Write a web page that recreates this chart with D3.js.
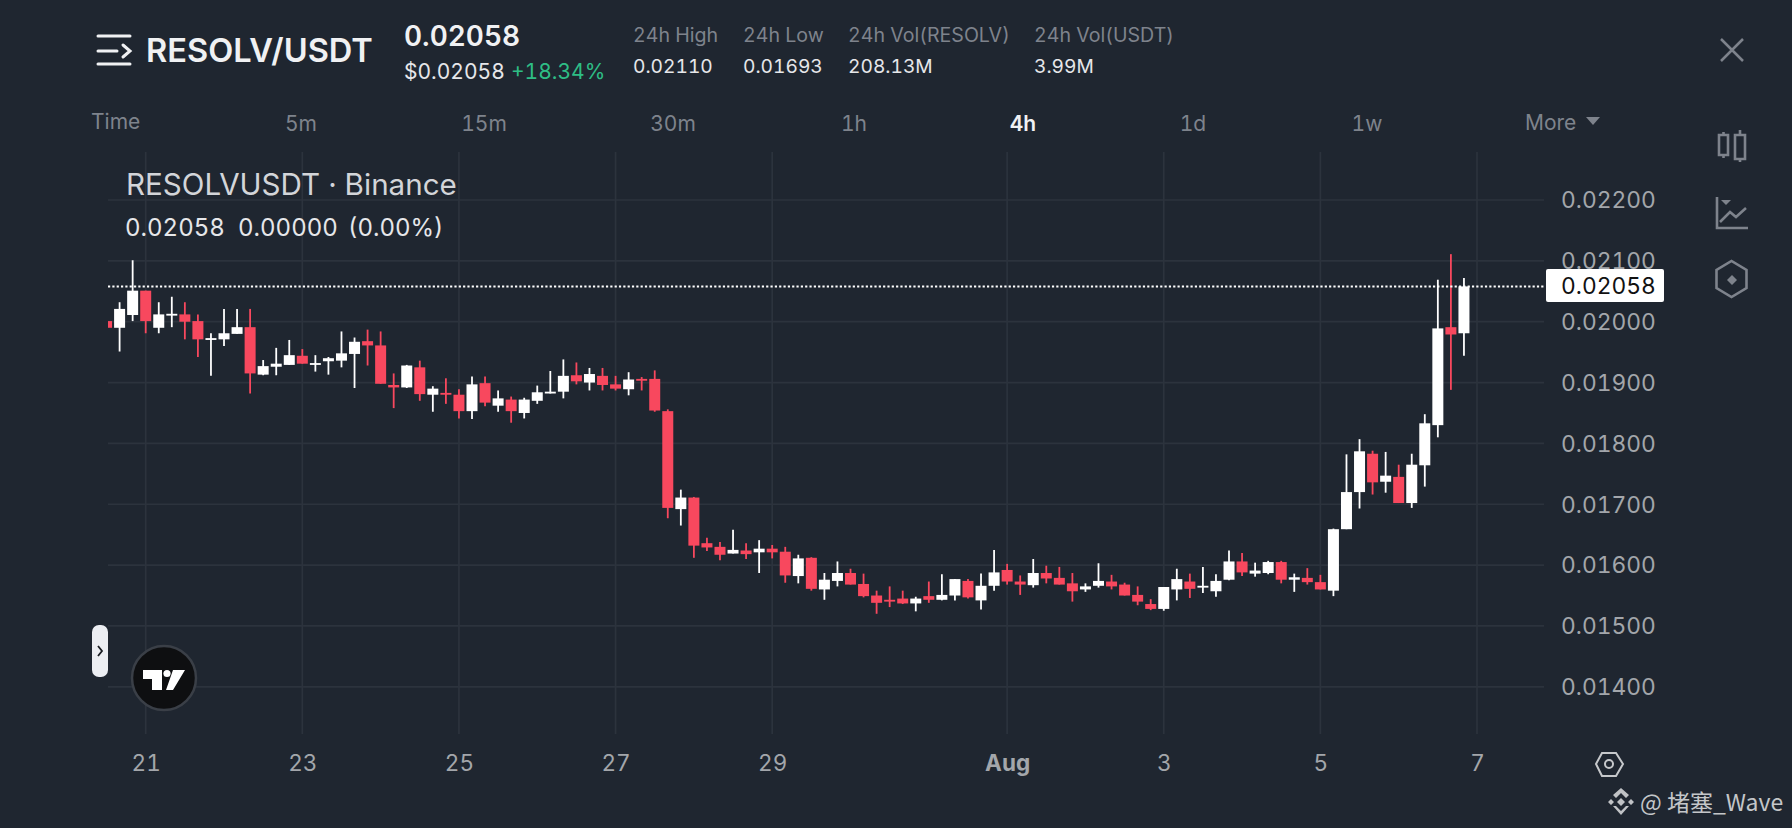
<!DOCTYPE html>
<html>
<head>
<meta charset="utf-8">
<script src="https://cdn.jsdelivr.net/npm/d3@7"></script>
<style>
  html, body { margin: 0; padding: 0; background: #1f2630; overflow: hidden; }
  svg { display: block; font-family: Inter, Roboto, sans-serif; font-variant-numeric: tabular-nums; }
</style>
</head>
<body>
<svg width="1792" height="828"></svg>
<script>
const opens = [
  0.02001, 0.01990, 0.02011, 0.02051, 0.01990, 0.02010, 0.02012, 0.02001, 0.01970, 0.01971,
  0.01980, 0.01991, 0.01913, 0.01926, 0.01929, 0.01944, 0.01929, 0.01935, 0.01936, 0.01947,
  0.01968, 0.01961, 0.01896, 0.01892, 0.01925, 0.01880, 0.01883, 0.01880, 0.01853, 0.01899,
  0.01862, 0.01872, 0.01850, 0.01870, 0.01882, 0.01885, 0.01912, 0.01900, 0.01911, 0.01897,
  0.01889, 0.01906, 0.01906, 0.01853, 0.01692, 0.01711, 0.01636, 0.01630, 0.01619, 0.01624,
  0.01621, 0.01627, 0.01622, 0.01582, 0.01612, 0.01560, 0.01574, 0.01587, 0.01569, 0.01550,
  0.01543, 0.01545, 0.01537, 0.01549, 0.01543, 0.01550, 0.01574, 0.01542, 0.01566, 0.01592,
  0.01573, 0.01567, 0.01587, 0.01579, 0.01570, 0.01560, 0.01566, 0.01573, 0.01568, 0.01551,
  0.01536, 0.01528, 0.01560, 0.01573, 0.01563, 0.01557, 0.01576, 0.01606, 0.01586, 0.01587,
  0.01605, 0.01576, 0.01579, 0.01572, 0.01558, 0.01659, 0.01720, 0.01783, 0.01737, 0.01745,
  0.01702, 0.01764, 0.01830, 0.01991, 0.01981
];
const highs = [
  0.02001, 0.02032, 0.02101, 0.02051, 0.02032, 0.02041, 0.02032, 0.02012, 0.01981, 0.02021,
  0.02021, 0.02021, 0.01937, 0.01957, 0.01970, 0.01955, 0.01945, 0.01942, 0.01984, 0.01974,
  0.01987, 0.01984, 0.01915, 0.01929, 0.01936, 0.01894, 0.01907, 0.01889, 0.01910, 0.01910,
  0.01887, 0.01877, 0.01875, 0.01895, 0.01919, 0.01938, 0.01933, 0.01924, 0.01924, 0.01911,
  0.01917, 0.01909, 0.01920, 0.01856, 0.01724, 0.01712, 0.01645, 0.01638, 0.01658, 0.01636,
  0.01641, 0.01633, 0.01630, 0.01617, 0.01613, 0.01587, 0.01606, 0.01594, 0.01586, 0.01558,
  0.01565, 0.01558, 0.01548, 0.01573, 0.01585, 0.01577, 0.01577, 0.01586, 0.01625, 0.01602,
  0.01583, 0.01610, 0.01599, 0.01597, 0.01587, 0.01570, 0.01603, 0.01584, 0.01571, 0.01565,
  0.01544, 0.01564, 0.01594, 0.01586, 0.01597, 0.01585, 0.01624, 0.01620, 0.01604, 0.01607,
  0.01607, 0.01586, 0.01595, 0.01584, 0.01660, 0.01782, 0.01807, 0.01788, 0.01786, 0.01765,
  0.01783, 0.01848, 0.02069, 0.02111, 0.02072
];
const lows = [
  0.01990, 0.01951, 0.02001, 0.01981, 0.01981, 0.01991, 0.01971, 0.01942, 0.01911, 0.01960,
  0.01980, 0.01882, 0.01912, 0.01912, 0.01929, 0.01931, 0.01918, 0.01913, 0.01925, 0.01891,
  0.01928, 0.01898, 0.01858, 0.01891, 0.01870, 0.01852, 0.01865, 0.01841, 0.01840, 0.01861,
  0.01852, 0.01834, 0.01841, 0.01865, 0.01882, 0.01874, 0.01897, 0.01887, 0.01887, 0.01887,
  0.01879, 0.01887, 0.01852, 0.01677, 0.01665, 0.01612, 0.01623, 0.01608, 0.01619, 0.01610,
  0.01587, 0.01611, 0.01571, 0.01570, 0.01558, 0.01543, 0.01565, 0.01568, 0.01547, 0.01520,
  0.01531, 0.01536, 0.01524, 0.01538, 0.01542, 0.01542, 0.01545, 0.01527, 0.01558, 0.01568,
  0.01551, 0.01563, 0.01570, 0.01568, 0.01540, 0.01556, 0.01563, 0.01560, 0.01550, 0.01534,
  0.01526, 0.01525, 0.01542, 0.01546, 0.01554, 0.01548, 0.01575, 0.01582, 0.01581, 0.01585,
  0.01570, 0.01556, 0.01568, 0.01560, 0.01549, 0.01659, 0.01693, 0.01716, 0.01719, 0.01702,
  0.01694, 0.01729, 0.01810, 0.01888, 0.01944
];
const closes = [
  0.01990, 0.02021, 0.02051, 0.02001, 0.02012, 0.02013, 0.02000, 0.01971, 0.01973, 0.01981,
  0.01991, 0.01915, 0.01927, 0.01931, 0.01945, 0.01931, 0.01932, 0.01940, 0.01948, 0.01967,
  0.01961, 0.01898, 0.01892, 0.01928, 0.01881, 0.01890, 0.01880, 0.01853, 0.01897, 0.01867,
  0.01874, 0.01853, 0.01872, 0.01884, 0.01885, 0.01911, 0.01902, 0.01914, 0.01896, 0.01890,
  0.01905, 0.01903, 0.01854, 0.01694, 0.01711, 0.01632, 0.01629, 0.01617, 0.01625, 0.01618,
  0.01627, 0.01621, 0.01583, 0.01611, 0.01561, 0.01576, 0.01587, 0.01568, 0.01549, 0.01538,
  0.01540, 0.01537, 0.01545, 0.01543, 0.01551, 0.01577, 0.01547, 0.01566, 0.01588, 0.01573,
  0.01568, 0.01587, 0.01578, 0.01568, 0.01557, 0.01565, 0.01574, 0.01565, 0.01550, 0.01540,
  0.01528, 0.01564, 0.01577, 0.01561, 0.01566, 0.01574, 0.01606, 0.01588, 0.01591, 0.01605,
  0.01576, 0.01580, 0.01572, 0.01560, 0.01659, 0.01720, 0.01787, 0.01736, 0.01747, 0.01702,
  0.01765, 0.01833, 0.01989, 0.01979, 0.02058
];

const lastPrice = 0.02058;
const priceTicks = [0.014, 0.015, 0.016, 0.017, 0.018, 0.019, 0.020, 0.021, 0.022];
const dayTicks = [
  Date.UTC(2025, 6, 21), Date.UTC(2025, 6, 23), Date.UTC(2025, 6, 25), Date.UTC(2025, 6, 27),
  Date.UTC(2025, 6, 29), Date.UTC(2025, 7, 1), Date.UTC(2025, 7, 3), Date.UTC(2025, 7, 5), Date.UTC(2025, 7, 7)
];
const dayLabels = ["21", "23", "25", "27", "29", "Aug", "3", "5", "7"];
const firstCandle = Date.UTC(2025, 6, 20, 12);
const candleMs = 4 * 3600 * 1000;

const statLabels = ["24h High", "24h Low", "24h Vol(RESOLV)", "24h Vol(USDT)"];
const statValues = ["0.02110", "0.01693", "208.13M", "3.99M"];
const statX = [633, 743, 848, 1034];
const intervals = ["5m", "15m", "30m", "1h", "4h", "1d", "1w"];
const intervalX = [301, 484, 673, 854, 1023, 1193, 1367];
const legendValues = ["0.02058", "0.00000", "(0.00%)"];
const legendX = [125, 238, 348];

const colors = { bg: "#1f2630", grid: "#2c333d", up: "#ffffff", down: "#f8485e", muted: "#7e838c", axis: "#a3a6ab" };

const svg = d3.select("svg");

const scaleX = d3.scaleUtc()
  .domain([dayTicks[0], dayTicks[8]])
  .range([145.7, 1477]);
const scaleY = d3.scaleLinear()
  .domain([0.014, 0.022])
  .range([686.8, 200]);

const plot = { left: 108, right: 1544, top: 152, bottom: 734 };
const candles = opens.map((o, i) => ({
  t: firstCandle + i * candleMs, o: o, h: highs[i], l: lows[i], c: closes[i]
}));

svg.append("clipPath").attr("id", "plotClip")
  .append("rect")
  .attr("x", plot.left).attr("y", plot.top)
  .attr("width", plot.right - plot.left).attr("height", plot.bottom - plot.top);

// grid
const grid = svg.append("g").attr("stroke", colors.grid).attr("stroke-width", 1.7);
grid.selectAll("line.h").data(priceTicks).join("line")
  .attr("x1", plot.left).attr("x2", plot.right)
  .attr("y1", d => scaleY(d)).attr("y2", d => scaleY(d));
grid.selectAll("line.v").data(dayTicks).join("line")
  .attr("x1", d => scaleX(d)).attr("x2", d => scaleX(d))
  .attr("y1", plot.top).attr("y2", plot.bottom);

// candles
const g = svg.append("g").attr("clip-path", "url(#plotClip)");
const colorOf = d => d.c >= d.o ? colors.up : colors.down;
const bodyW = 11;
g.selectAll("line.wick").data(candles).join("line")
  .attr("x1", d => scaleX(d.t)).attr("x2", d => scaleX(d.t))
  .attr("y1", d => scaleY(d.h)).attr("y2", d => scaleY(d.l))
  .attr("stroke", colorOf).attr("stroke-width", 1.8);
g.selectAll("rect.body").data(candles).join("rect")
  .attr("x", d => scaleX(d.t) - bodyW / 2)
  .attr("width", bodyW)
  .attr("y", d => scaleY(Math.max(d.o, d.c)))
  .attr("height", d => Math.max(1.8, Math.abs(scaleY(d.o) - scaleY(d.c))))
  .attr("fill", colorOf);

// last price line
svg.append("line")
  .attr("x1", plot.left).attr("x2", plot.right)
  .attr("y1", scaleY(lastPrice)).attr("y2", scaleY(lastPrice))
  .attr("stroke", "#ffffff").attr("stroke-width", 2).attr("stroke-dasharray", "2.2 2.13");

// axes
const axisY = svg.append("g")
  .attr("transform", "translate(1561,0.5)")
  .call(d3.axisRight(scaleY).tickValues(priceTicks).tickFormat(d3.format(".5f")).tickSize(0).tickPadding(0));
axisY.select(".domain").remove();
axisY.selectAll("text")
  .attr("fill", colors.axis).style("font-family", "Inter").style("font-size", "22.8px");

const axisX = svg.append("g")
  .attr("transform", "translate(0,755)")
  .call(d3.axisBottom(scaleX).tickValues(dayTicks).tickFormat((d, i) => dayLabels[i]).tickSize(0).tickPadding(0));
axisX.select(".domain").remove();
axisX.selectAll("text")
  .attr("fill", colors.axis).style("font-family", "Inter").style("font-size", "22.5px")
  .style("font-weight", (d, i) => dayLabels[i] === "Aug" ? 700 : 400);

// price tag
svg.append("rect").attr("x", 1546).attr("y", 269).attr("width", 118).attr("height", 33).attr("rx", 2).attr("fill", "#ffffff");
svg.append("text").attr("x", 1561).attr("y", 294).attr("fill", "#111111")
  .style("font-size", "22.8px").text("0.02058");

// chart legend
svg.append("text").attr("x", 126).attr("y", 195).attr("fill", "#d3d5d9")
  .style("font-size", "29.6px").text("RESOLVUSDT · Binance");
svg.selectAll("text.legendValue").data(legendValues).join("text")
  .attr("x", (d, i) => legendX[i]).attr("y", 236).attr("fill", "#e6e7ea")
  .style("font-size", "24px").text(d => d);

// header
const menu = svg.append("g").attr("stroke", "#f0f1f3").attr("stroke-width", 3).attr("fill", "none").attr("stroke-linecap", "round");
menu.append("path").attr("d", "M98 36H130M98 51H117M98 64H130M123 45L130 51L123 57");
svg.append("text").attr("x", 146).attr("y", 62).attr("fill", "#f0f1f3")
  .style("font-size", "32.6px").style("font-weight", 600).text("RESOLV/USDT");
svg.append("text").attr("x", 404).attr("y", 46).attr("fill", "#f0f1f3")
  .style("font-size", "28px").style("font-weight", 600).text("0.02058");
svg.append("text").attr("x", 404).attr("y", 79).attr("fill", "#e6e7ea")
  .style("font-size", "21px").text("$0.02058");
svg.append("text").attr("x", 511).attr("y", 79).attr("fill", "#2ebd85").style("font-size", "21px").text("+18.34%");

svg.selectAll("text.statLabel").data(statLabels).join("text")
  .attr("x", (d, i) => statX[i]).attr("y", 42).attr("fill", colors.muted).style("font-size", "19.6px").text(d => d);
svg.selectAll("text.statValue").data(statValues).join("text")
  .attr("x", (d, i) => statX[i]).attr("y", 73).attr("fill", "#e6e7ea").style("font-size", "19.2px").text(d => d);

svg.append("text").attr("x", 91).attr("y", 129).attr("fill", colors.muted).style("font-size", "21px").text("Time");
svg.selectAll("text.interval").data(intervals).join("text")
  .attr("x", (d, i) => intervalX[i]).attr("y", 131).attr("text-anchor", "middle")
  .attr("fill", d => d === "4h" ? "#f0f1f3" : colors.muted)
  .style("font-size", "21px").style("font-weight", d => d === "4h" ? 600 : 400).text(d => d);
svg.append("text").attr("x", 1525).attr("y", 130).attr("fill", colors.muted).style("font-size", "21px").text("More");
svg.append("path").attr("d", "M1586 117H1600L1593 125Z").attr("fill", colors.muted);

// right side icons
svg.append("path").attr("d", "M1721 39L1743 61M1743 39L1721 61")
  .attr("stroke", colors.muted).attr("stroke-width", 2.5).attr("fill", "none");
const icons = svg.append("g").attr("stroke", colors.muted).attr("stroke-width", 2.6).attr("fill", "none");
icons.append("path").attr("d", "M1719 135h9v20h-9zM1723.5 132v3M1723.5 155v3M1735 135h10v24h-10zM1740 130v5M1740 159v3");
icons.append("path").attr("d", "M1717 197V228H1748M1720 222L1730 212L1736 217L1746 208");
icons.append("path").attr("d", "M1716.500 270V288L1731.500 297L1746.500 288V270L1731.500 261Z");
svg.append("path").attr("d", "M1727 280L1732 275L1737 280L1732 285Z").attr("fill", colors.muted);
svg.append("path").attr("d", "M1721 200H1731L1726 205Z").attr("fill", colors.muted);

// side handle and logo
svg.append("rect").attr("x", 92).attr("y", 625).attr("width", 16).attr("height", 52).attr("rx", 7).attr("fill", "#eceef2");
svg.append("path").attr("d", "M98 646L102 651L98 656").attr("stroke", "#1a1d22").attr("stroke-width", 1.8).attr("fill", "none");
svg.append("circle").attr("cx", 164).attr("cy", 678).attr("r", 32).attr("fill", "#0e0f11").attr("stroke", "#3a3f47").attr("stroke-width", 2.5);
svg.append("path").attr("d", "M143 670H162V690H152V679H143ZM173 670H185L173 690H166Z").attr("fill", "#ffffff");
svg.append("circle").attr("cx", 167).attr("cy", 673.500).attr("r", 3.6).attr("fill", "#ffffff");

// settings hexagon
svg.append("path").attr("d", "M1596 764L1602 753H1616L1623 764L1616 776H1602Z").attr("stroke", "#c6c8cb").attr("stroke-width", 2).attr("fill", "none");
svg.append("circle").attr("cx", 1609).attr("cy", 764).attr("r", 4).attr("stroke", "#c6c8cb").attr("stroke-width", 2).attr("fill", "none");

// watermark
svg.append("path").attr("fill", "#c0c2c5")
  .attr("d", "M1621 788L1629 795L1626 798L1621 793L1616 798L1613 795ZM1608 802L1611 799L1614 802L1611 805ZM1628 802L1631 799L1634 802L1631 805ZM1621 798L1625 802L1621 806L1617 802ZM1613 806L1616 806L1621 811L1626 806L1629 806L1621 815Z");
svg.append("text").attr("x", 1640).attr("y", 811).attr("fill", "#c4c6c9")
  .style("font-family", "'Noto Sans CJK SC'").style("font-size", "23px").text("@ 堵塞_Wave");
</script>
</body>
</html>
